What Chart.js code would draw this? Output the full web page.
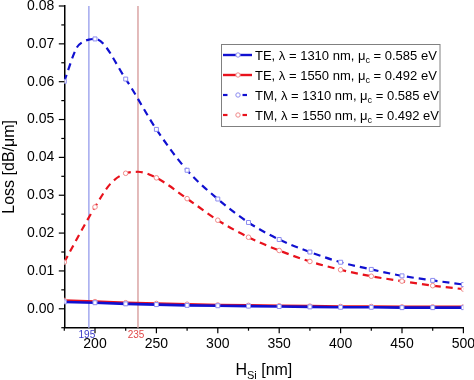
<!DOCTYPE html>
<html><head><meta charset="utf-8">
<script src="https://cdn.jsdelivr.net/npm/chart.js@4.4.1/dist/chart.umd.min.js"></script>
<style>html,body{margin:0;padding:0;background:#fff}canvas{display:block}</style>
</head><body>
<canvas id="c" width="474" height="380"></canvas>
<script>
// ---- data ----
const hSi = [175,200,225,250,275,300,325,350,375,400,425,450,475,500];
const teLoss1310 = [0.0018,0.0016,0.0013,0.0011,0.0009,0.0008,0.0007,0.0006,0.0005,0.0004,0.0004,0.0003,0.0003,0.0003];
const teLoss1550 = [0.0022,0.0019,0.0016,0.0014,0.0012,0.0010,0.0009,0.0008,0.0007,0.0006,0.0006,0.0005,0.0005,0.0005];
const tm1310H = [175,185,190,195,200,225,250,275,300,325,350,375,400,425,450,475,500];
const tm1310Loss = [0.0601,0.0689,0.0705,0.0711,0.0713,0.0607,0.0474,0.0366,0.0290,0.0228,0.0183,0.0150,0.0123,0.0104,0.0087,0.0075,0.0064];
const tm1550H = [175,187.5,200,212.5,225,235,250,275,300,325,350,375,400,425,450,475,500];
const tm1550Loss = [0.0123,0.0198,0.0269,0.0330,0.0358,0.0362,0.0346,0.0291,0.0234,0.0189,0.0154,0.0125,0.0103,0.0086,0.0073,0.0061,0.0052];
const refLines = [195,235];
const refLabels = ['195','235'];
const xTickLabels = ['200','250','300','350','400','450','500'];
const yTickLabels = ['0.00','0.01','0.02','0.03','0.04','0.05','0.06','0.07','0.08'];
const legendMode = ['TE','TE','TM','TM'];
const legendLambda = ['1310','1550','1310','1550'];
const legendMu = ['0.585','0.492','0.585','0.492'];
const yTitle = 'Loss [dB/\u03bcm]';
const xTitleMain = 'H', xTitleSub = 'Si', xTitleRest = ' [nm]';

// ---- styles ----
const FONT = '"Liberation Sans", Arial, sans-serif';
const BLUE = '#1010d0', RED = '#e8121c';
const BLUE_M = '#8c8cf0', RED_M = '#f08a8a';
const REF_COLORS = ['#a8aef0','#dcaaaa'];
const REF_TEXT = ['#3a3ac8','#e04848'];

const pts = (xs, ys) => xs.map((x,i)=>({x, y: ys[i]}));
const mRad = r => c => (c.raw && c.raw.x % 25 === 0) ? r : 0;

const datasets = [
  {label:'TE1310', data: pts(hSi, teLoss1310), borderColor: BLUE, borderWidth: 2.6, tension:0,
   pointStyle:'rect', pointRadius: mRad(2.8), pointBorderColor: BLUE_M, pointBackgroundColor:'#fff', pointBorderWidth:1},
  {label:'TE1550', data: pts(hSi, teLoss1550), borderColor: RED, borderWidth: 2.6, tension:0,
   pointStyle:'circle', pointRadius: mRad(2.3), pointBorderColor: RED_M, pointBackgroundColor:'#fff', pointBorderWidth:1},
  {label:'TM1310', data: pts(tm1310H, tm1310Loss), borderColor: BLUE, borderWidth: 2.2, borderDash:[7,5], cubicInterpolationMode:'monotone',
   pointStyle:'rect', pointRadius: mRad(2.8), pointBorderColor: BLUE_M, pointBackgroundColor:'#fff', pointBorderWidth:1},
  {label:'TM1550', data: pts(tm1550H, tm1550Loss), borderColor: RED, borderWidth: 2.2, borderDash:[7,5], cubicInterpolationMode:'monotone',
   pointStyle:'circle', pointRadius: mRad(2.3), pointBorderColor: RED_M, pointBackgroundColor:'#fff', pointBorderWidth:1}
];

function drawSubText(ctx, x, y, parts, size, subSize, subDy) {
  let cx = x;
  parts.forEach(p => {
    ctx.font = (p.sub ? subSize : size) + 'px ' + FONT;
    ctx.fillText(p.t, cx, y + (p.sub ? subDy : 0));
    cx += ctx.measureText(p.t).width;
  });
  return cx;
}

const refPlugin = {
  id:'refLines',
  beforeDatasetsDraw(chart){
    const {ctx, scales:{x, y}} = chart;
    ctx.save();
    refLines.forEach((v,i)=>{
      const px = x.getPixelForValue(v);
      ctx.strokeStyle = REF_COLORS[i]; ctx.lineWidth = 1.6;
      ctx.beginPath(); ctx.moveTo(px, y.top); ctx.lineTo(px, y.bottom); ctx.stroke();
    });
    ctx.restore();
  },
  afterDraw(chart){
    const {ctx, scales:{x, y}} = chart;
    ctx.save();
    // tick marks (major / minor) from the scales' own ticks
    ctx.strokeStyle = '#000'; ctx.lineWidth = 1.2;
    x.ticks.forEach(t=>{
      const px = x.getPixelForValue(t.value);
      const major = Math.abs(t.value % 50) < 1e-6;
      ctx.beginPath(); ctx.moveTo(px, x.top); ctx.lineTo(px, x.top + (major?5.5:3)); ctx.stroke();
    });
    y.ticks.forEach(t=>{
      const py = y.getPixelForValue(t.value);
      const major = Math.abs(t.value*100 - Math.round(t.value*100)) < 1e-6;
      ctx.beginPath(); ctx.moveTo(y.right, py); ctx.lineTo(y.right - (major?5.5:3), py); ctx.stroke();
    });
    // reference line labels
    ctx.font = '10px ' + FONT; ctx.textAlign = 'center'; ctx.textBaseline = 'alphabetic';
    refLines.forEach((v,i)=>{
      ctx.fillStyle = REF_TEXT[i];
      ctx.fillText(refLabels[i], x.getPixelForValue(v) - 2, x.top + 10.5);
    });
    // x title with subscript
    ctx.textAlign = 'left'; ctx.fillStyle = '#000';
    ctx.font = '16px ' + FONT;
    const w1 = ctx.measureText(xTitleMain).width + ctx.measureText(xTitleRest).width;
    ctx.font = '11px ' + FONT;
    const w2 = ctx.measureText(xTitleSub).width;
    const cxm = (x.left + x.right)/2;
    drawSubText(ctx, cxm - (w1+w2)/2, 374.5, [{t:xTitleMain},{t:xTitleSub,sub:true},{t:xTitleRest}], 16, 11, 4);
    // legend box
    const bx = 221.5, by = 44.5, bw = 218.5, bh = 82;
    ctx.fillStyle = '#fff'; ctx.fillRect(bx, by, bw, bh);
    ctx.strokeStyle = '#808080'; ctx.lineWidth = 1; ctx.strokeRect(bx, by, bw, bh);
    const cols = [BLUE, RED, BLUE, RED], mcols = [BLUE_M, RED_M, BLUE_M, RED_M];
    for (let i=0;i<4;i++){
      const cy = 55 + i*20;
      ctx.strokeStyle = cols[i];
      if (legendMode[i] === 'TE') {
        ctx.lineWidth = 2.4;
        ctx.beginPath(); ctx.moveTo(223, cy); ctx.lineTo(252, cy); ctx.stroke();
      } else {
        ctx.lineWidth = 2.2;
        ctx.beginPath(); ctx.moveTo(223, cy); ctx.lineTo(227.5, cy); ctx.stroke();
        ctx.beginPath(); ctx.moveTo(242.5, cy); ctx.lineTo(247, cy); ctx.stroke();
      }
      ctx.strokeStyle = mcols[i]; ctx.fillStyle = '#fff'; ctx.lineWidth = 1;
      ctx.beginPath(); ctx.arc(238, cy, 2.2, 0, Math.PI*2); ctx.fill(); ctx.stroke();
      ctx.fillStyle = '#000';
      drawSubText(ctx, 255, cy + 4.6, [
        {t: legendMode[i] + ', \u03bb = ' + legendLambda[i] + ' nm, \u03bc'},
        {t:'c', sub:true},
        {t:' = ' + legendMu[i] + ' eV'}
      ], 13, 9, 3);
    }
    ctx.restore();
  }
};

new Chart(document.getElementById('c'), {
  type:'line',
  data:{datasets},
  options:{
    responsive:false, animation:false, devicePixelRatio:1,
    layout:{padding:{top:6, right:10.6, left:0, bottom:0}},
    plugins:{legend:{display:false}, tooltip:{enabled:false}},
    scales:{
      x:{type:'linear', min:175, max:500,
         grid:{display:false, drawTicks:false},
         border:{display:true, color:'#000', width:1.5},
         ticks:{stepSize:25, autoSkip:false, maxRotation:0, padding:8, color:'#000', font:{size:14, family:FONT},
           callback:(v)=>{ const s=String(v); return xTickLabels.includes(s) ? s : ''; }},
         afterFit:(s)=>{ s.height = 52.3; s.paddingLeft = 0; s.paddingRight = 0; }
      },
      y:{type:'linear', min:-0.005, max:0.08,
         grid:{display:false, drawTicks:false},
         border:{display:true, color:'#000', width:1.5},
         ticks:{stepSize:0.005, autoSkip:false, padding:10, color:'#000', font:{size:14, family:FONT},
           callback:(v)=>{ const s=Number(v).toFixed(3); const l=Number(v).toFixed(2); return (s.endsWith('0') && yTickLabels.includes(l)) ? l : ''; }},
         title:{display:true, text:yTitle, color:'#000', font:{size:16, family:FONT}, padding:{top:0,bottom:0}},
         afterFit:(s)=>{ s.width = 64.3; s.paddingTop = 0; s.paddingBottom = 0; }
      }
    }
  },
  plugins:[refPlugin]
});
</script>
</body></html>
